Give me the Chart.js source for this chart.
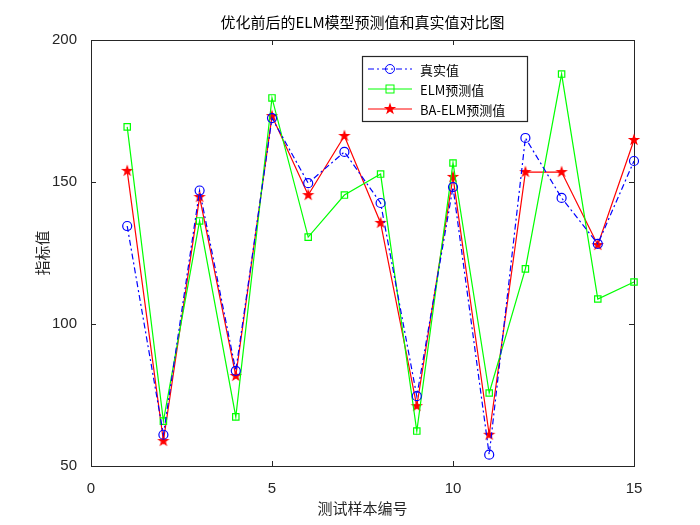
<!DOCTYPE html>
<html><head><meta charset="utf-8">
<script src="https://cdn.jsdelivr.net/npm/chart.js@4"></script>
<style>body{margin:0;background:#fff}#wrap{width:700px;height:525px}</style>
</head><body><div id="wrap"><canvas id="c"></canvas></div>
<script>
var samples = [1,2,3,4,5,6,7,8,9,10,11,12,13,14,15];
var realValues = [134.5,61,147,83.5,172.5,149.6,160.6,142.6,74.6,148.2,54,165.5,144.4,128.2,157.4];
var elmValues = [169.4,65.8,136.3,67.3,179.6,130.6,145.4,152.8,62.3,156.7,75.7,119.4,188,108.8,114.8];
var baElmValues = [153.9,58.8,144.7,81.7,173.2,145.4,166.2,135.6,71.1,151.8,61,153.5,153.5,127.8,164.8];
var xTicks = [0,5,10,15];
var yTicks = [50,100,150,200];
var seriesNames = ['真实值','ELM预测值','BA-ELM预测值'];

// filled pentagram marker like MATLAB
function starImg(size, color) {
    var cv = document.createElement('canvas');
    cv.width = size; cv.height = size;
    var g = cv.getContext('2d');
    var cx = size/2, cy = size/2, R = size/2 - 0.5, r = R*0.4;
    g.beginPath();
    for (var i = 0; i < 10; i++) {
        var a = -Math.PI/2 + i*Math.PI/5;
        var rr = i % 2 ? r : R;
        g.lineTo(cx + rr*Math.cos(a), cy + rr*Math.sin(a));
    }
    g.closePath();
    g.fillStyle = color; g.fill();
    return cv;
}
var star = starImg(14, '#ff0000');

function toXY(vals) { return vals.map(function (v, i) { return {x: samples[i], y: v}; }); }

var font = '"Noto Sans CJK SC", "Liberation Sans", sans-serif';
var tickFont = '"Liberation Sans", sans-serif';

var frame = {
    id: 'frame',
    beforeDatasetsDraw: function (chart) {
        var g = chart.ctx, a = chart.chartArea;
        var xs = chart.scales.x, ys = chart.scales.y;
        g.save();
        g.strokeStyle = '#262626'; g.lineWidth = 1;
        g.strokeRect(a.left + 0.5, a.top + 0.5, a.right - a.left, a.bottom - a.top);
        g.beginPath();
        xTicks.forEach(function (t) {
            var p = Math.round(xs.getPixelForValue(t)) + 0.5;
            g.moveTo(p, a.bottom); g.lineTo(p, a.bottom - 5);
            g.moveTo(p, a.top); g.lineTo(p, a.top + 5);
        });
        yTicks.forEach(function (t) {
            var p = Math.round(ys.getPixelForValue(t)) + 0.5;
            g.moveTo(a.left, p); g.lineTo(a.left + 5, p);
            g.moveTo(a.right, p); g.lineTo(a.right - 5, p);
        });
        g.stroke();
        g.restore();
    },
    afterDraw: function (chart) {
        var g = chart.ctx, a = chart.chartArea;
        g.save();
        // titles
        g.fillStyle = '#000';
        g.textAlign = 'center'; g.textBaseline = 'middle';
        g.font = '15px ' + font;
        g.fillText('优化前后的ELM模型预测值和真实值对比图', (a.left + a.right)/2, 22);
        g.fillStyle = '#262626';
        g.fillText('测试样本编号', (a.left + a.right)/2, 508);
        g.save();
        g.translate(42, (a.top + a.bottom)/2);
        g.rotate(-Math.PI/2);
        g.fillText('指标值', 0, 0);
        g.restore();
        // legend
        var lx = 362, ly = 56, lw = 165, lh = 65;
        g.fillStyle = '#fff';
        g.fillRect(lx, ly, lw, lh);
        g.strokeStyle = '#262626';
        g.strokeRect(lx + 0.5, ly + 0.5, lw, lh);
        var items = [
            {c: '#0000ff', dash: [6,3,2,3], m: 'circle'},
            {c: '#00ff00', dash: [], m: 'rect'},
            {c: '#ff0000', dash: [], m: 'star'}
        ];
        g.font = '13px ' + font;
        g.textAlign = 'left';
        items.forEach(function (it, i) {
            var y = ly + 13 + i*20;
            g.strokeStyle = it.c; g.lineWidth = 1;
            g.setLineDash(it.dash);
            g.beginPath(); g.moveTo(lx + 6, y); g.lineTo(lx + 50, y); g.stroke();
            g.setLineDash([]);
            var mx = lx + 28;
            if (it.m === 'circle') { g.beginPath(); g.arc(mx, y, 4.5, 0, Math.PI*2); g.stroke(); }
            else if (it.m === 'rect') { g.strokeRect(mx - 4, y - 4, 8, 8); }
            else { g.drawImage(star, mx - 7, y - 7); }
            g.fillStyle = '#000';
            g.fillText(seriesNames[i], lx + 58, y + 1);
        });
        g.restore();
    }
};

new Chart(document.getElementById('c'), {
    type: 'line',
    data: {
        datasets: [
            {label: seriesNames[0], data: toXY(realValues), borderColor: '#0000ff', borderWidth: 1.2,
             borderDash: [6,3,2,3], pointStyle: 'circle', pointRadius: 4.5, pointBorderColor: '#0000ff',
             pointBackgroundColor: 'rgba(0,0,0,0)', pointBorderWidth: 1.2, fill: false, tension: 0, clip: false},
            {label: seriesNames[1], data: toXY(elmValues), borderColor: '#00ff00', borderWidth: 1.2,
             pointStyle: 'rect', pointRadius: 4.5, pointBorderColor: '#00ff00',
             pointBackgroundColor: 'rgba(0,0,0,0)', pointBorderWidth: 1.2, fill: false, tension: 0, clip: false},
            {label: seriesNames[2], data: toXY(baElmValues), borderColor: '#ff0000', borderWidth: 1.2,
             pointStyle: star, pointRadius: 7, fill: false, tension: 0, clip: false}
        ]
    },
    options: {
        responsive: true,
        maintainAspectRatio: false,
        animation: false,
        layout: {padding: {top: 40, right: 66, left: 0, bottom: 0}},
        plugins: {legend: {display: false}, title: {display: false}, tooltip: {enabled: false}},
        scales: {
            x: {
                type: 'linear', min: 0, max: 15,
                afterBuildTicks: function (s) { s.ticks = xTicks.map(function (v) { return {value: v}; }); },
                afterFit: function (s) { s.height = 59; },
                grid: {display: false},
                border: {display: false},
                ticks: {color: '#262626', font: {size: 15, family: tickFont}, padding: 6}
            },
            y: {
                min: 50, max: 200,
                afterBuildTicks: function (s) { s.ticks = yTicks.map(function (v) { return {value: v}; }); },
                afterFit: function (s) { s.width = 91; },
                grid: {display: false},
                border: {display: false},
                ticks: {color: '#262626', font: {size: 15, family: tickFont}, padding: 6}
            }
        }
    },
    plugins: [frame]
});
</script>
</body></html>
